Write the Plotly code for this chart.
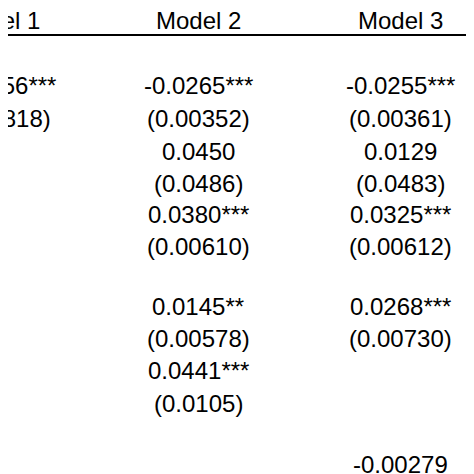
import plotly.graph_objects as go

models = ["Model 1", "Model 2", "Model 3"]
model1 = ["-0.0256***", "(0.00818)", "", "", "", "", "", "", "", "", "", "", ""]
model2 = ["-0.0265***", "(0.00352)", "0.0450", "(0.0486)", "0.0380***", "(0.00610)", "",
          "0.0145**", "(0.00578)", "0.0441***", "(0.0105)", "", ""]
model3 = ["-0.0255***", "(0.00361)", "0.0129", "(0.0483)", "0.0325***", "(0.00612)", "",
          "0.0268***", "(0.00730)", "", "", "", "-0.00279"]
row_y = [77, 110, 143, 175, 206, 238, 268, 298, 330, 362, 395, 426, 456]
col_x = [190, 392]

fig = go.Figure()
font = dict(family="Liberation Sans, Arial", size=24, color="black")
anns = []
# Model 1 column is cut at the left edge: anchor its right edges
m1_right = {0: 34}
anns.append(dict(x=34, y=12, text=models[0], showarrow=False, font=font,
                 xref="x", yref="y", xanchor="right"))
for y, t in zip(row_y, model1):
    if t:
        anns.append(dict(x=50 if "*" in t else 45, y=y, text=t, showarrow=False, font=font,
                         xref="x", yref="y", xanchor="right"))
for x, m in zip(col_x, models[1:]):
    anns.append(dict(x=x, y=12, text=m, showarrow=False, font=font, xref="x", yref="y"))
for x, col in zip(col_x, [model2, model3]):
    for y, t in zip(row_y, col):
        if t:
            anns.append(dict(x=x, y=y, text=t, showarrow=False, font=font, xref="x", yref="y"))
fig.update_layout(
    width=474, height=474, margin=dict(l=0, r=0, t=0, b=0),
    plot_bgcolor="white", paper_bgcolor="white",
    xaxis=dict(range=[0, 474], visible=False),
    yaxis=dict(range=[474, 0], visible=False),
    annotations=anns,
    shapes=[dict(type="line", x0=0, x1=1, y0=27, y1=27, xref="paper", yref="y",
                 line=dict(color="black", width=2))],
)
fig.write_html("out.html")
